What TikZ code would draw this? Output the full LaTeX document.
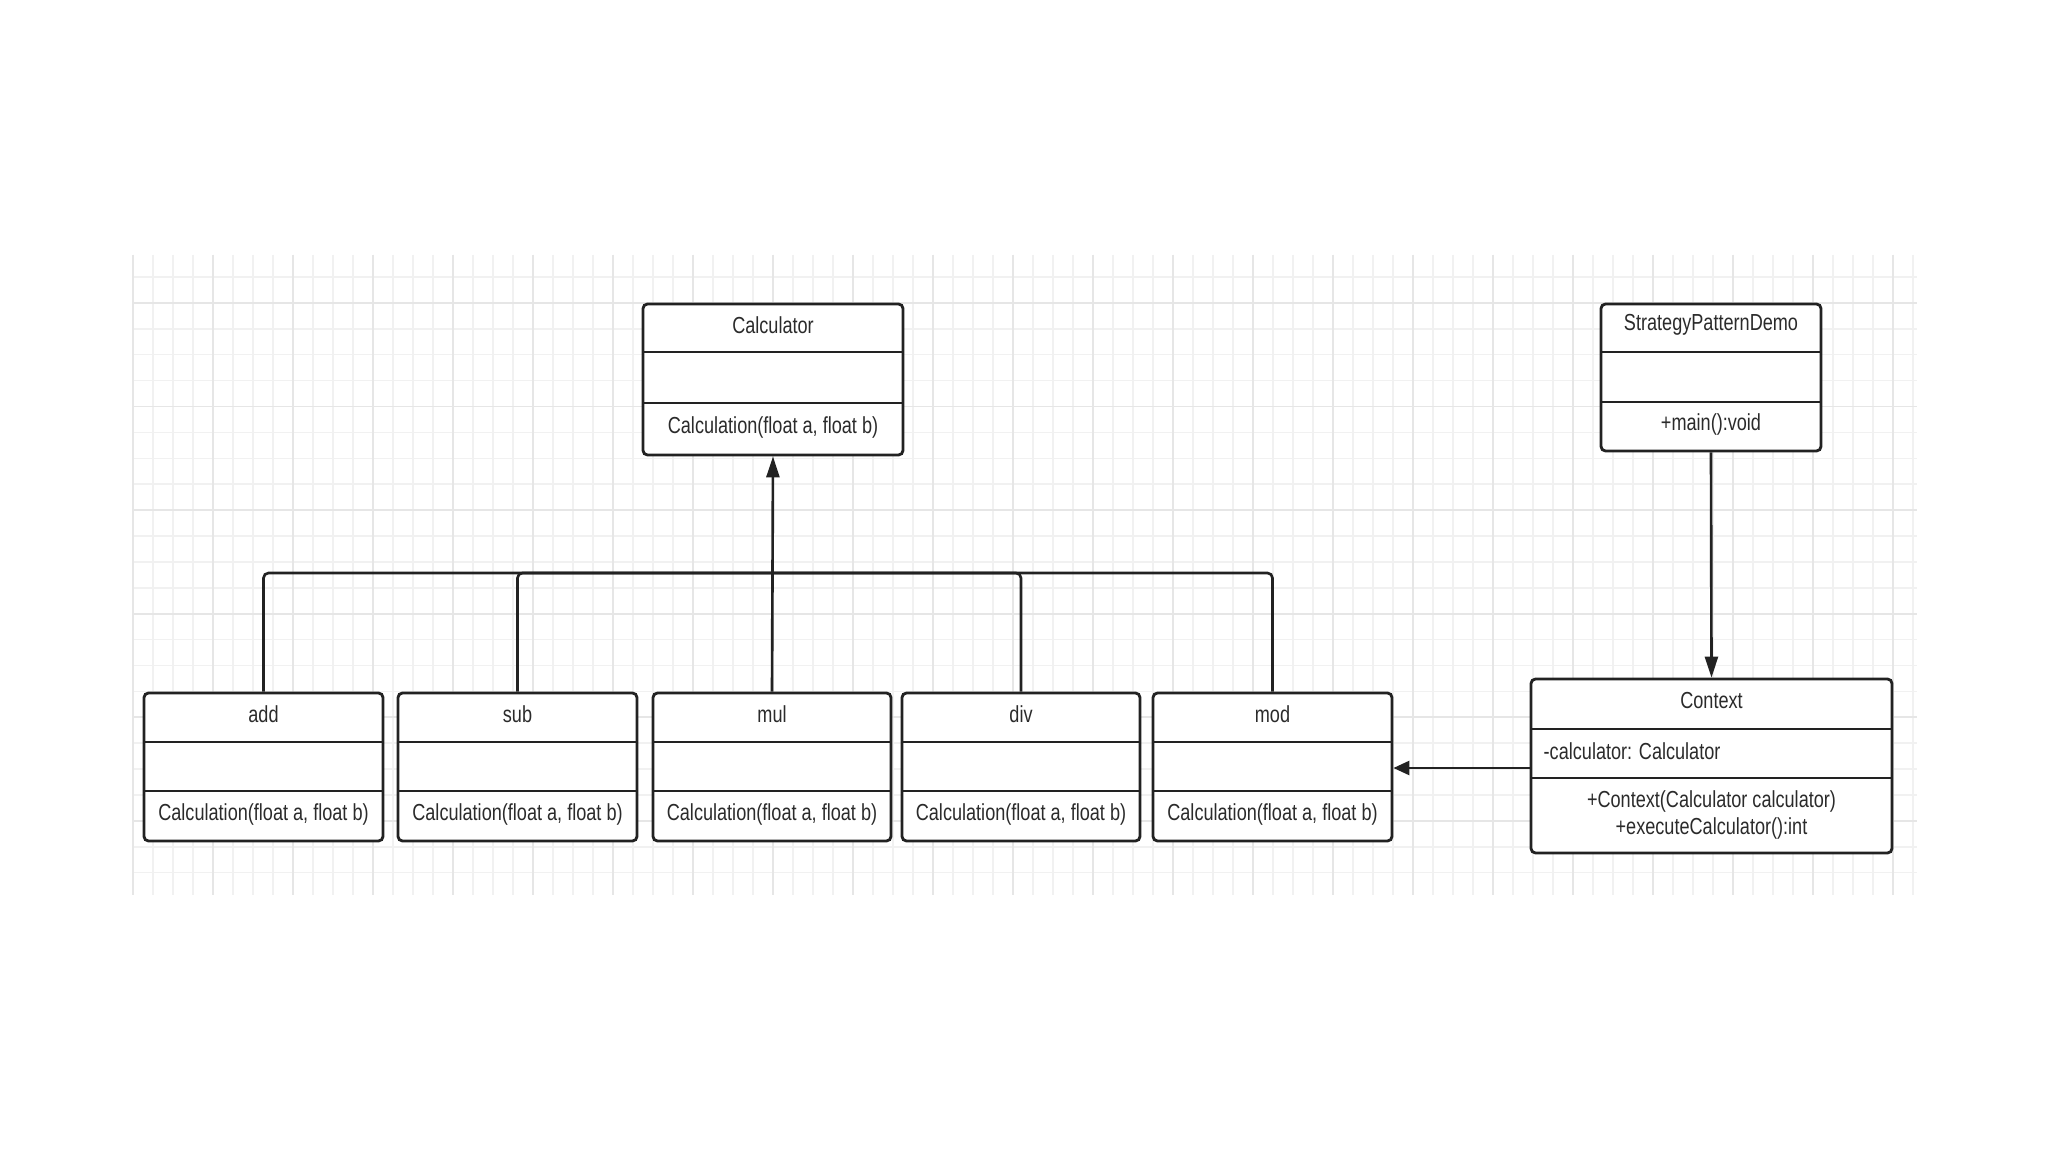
\documentclass[tikz,border=0pt]{standalone}
\usepackage{fontspec}
\setmainfont{Liberation Sans}[FakeStretch=0.78]
\usetikzlibrary{arrows.meta,fit,calc}
\definecolor{gminor}{HTML}{F1F1F1}
\definecolor{gmajor}{HTML}{E6E6E6}
\definecolor{ink}{HTML}{222222}
\definecolor{txtc}{HTML}{2B2B2B}
\tikzset{
  classbox/.style={draw=ink, line width=0.8pt, rounded corners=0.045cm, fill=white, inner sep=0pt},
  divline/.style={draw=ink, line width=0.8pt},
  lbl/.style={text=txtc, font=\fontsize{6.6}{7.4}\selectfont, inner sep=0pt},
  conn/.style={draw=ink, line width=0.75pt},
  uptip/.style={-{Triangle[length=0.21cm,width=0.13cm]}},
  sidetip/.style={-{Triangle[length=0.16cm,width=0.14cm]}},
  gridminor/.style={draw=gminor, line width=0.45pt},
  gridmajor/.style={draw=gmajor, line width=0.5pt},
}
% name, left, top, right, bottom, divider1, divider2, title, operations
\newcommand\umlcls[9]{%
  \node[classbox, fit={(#2,#3) (#4,#5)}] (#1) {};
  \draw[divline] (#2,#6) -- (#4,#6);
  \draw[divline] (#2,#7) -- (#4,#7);
  \node[lbl] (#1-title) at ({(#2+#4)/2},{(#3+#6)/2-3}) {#8};
  \node[lbl] (#1-ops) at ({(#2+#4)/2},{(#7+#5)/2-2}) {#9};
}
\begin{document}
\begin{tikzpicture}[x=0.01cm, y=-0.01cm]
\fill[white] (0,0) rectangle (2048,1152);
\useasboundingbox (0,0) rectangle (2048,1152);
% grid
\foreach \i in {0,...,89} \draw[gridminor] ({133+20*\i},255) -- ++(0,640);
\foreach \j in {0,...,23} \draw[gridminor] (133,{277+25.9*\j}) -- (1917,{277+25.9*\j});
\foreach \i in {0,4,...,88} \draw[gridmajor] ({133+20*\i},255) -- ++(0,640);
\foreach \j in {1,5,...,21} \draw[gridmajor] (133,{277+25.9*\j}) -- (1917,{277+25.9*\j});
% classes
\umlcls{calc}{643}{304}{903}{455}{352}{403}{Calculator}{Calculation(float a, float b)}
\umlcls{demo}{1601}{304}{1821}{451}{352}{402}{StrategyPatternDemo}{+main():void}
\umlcls{add}{144}{693}{383}{841}{742}{791}{add}{Calculation(float a, float b)}
\umlcls{sub}{398}{693}{637}{841}{742}{791}{sub}{Calculation(float a, float b)}
\umlcls{mul}{653}{693}{891}{841}{742}{791}{mul}{Calculation(float a, float b)}
\umlcls{div}{902}{693}{1140}{841}{742}{791}{div}{Calculation(float a, float b)}
\umlcls{mod}{1153}{693}{1392}{841}{742}{791}{mod}{Calculation(float a, float b)}
% Context
\node[classbox, fit={(1531,679) (1892,853)}] (ctx) {};
\draw[divline] (1531,729) -- (1892,729);
\draw[divline] (1531,778) -- (1892,778);
\node[lbl] (ctx-title) at (1711.5,701) {Context};
\node[lbl, anchor=west] (ctx-attr) at (1543,751) {-calculator: Calculator};
\node[lbl, align=center] (ctx-ops) at (1711.5,815) {+Context(Calculator calculator)\\+executeCalculator():int};
% connectors
\coordinate (bus) at (772,573);
\coordinate (arrowy) at (0,768);
\draw[conn, rounded corners=0.05cm] (add.north) |- (bus);
\draw[conn, rounded corners=0.05cm] (sub.north) |- (bus);
\draw[conn, rounded corners=0.05cm] (div.north) |- (bus);
\draw[conn, rounded corners=0.05cm] (mod.north) |- (bus);
\draw[conn, uptip] (mul.north) -- (calc.south);
\draw[conn, uptip] (demo.south) -- (ctx.north);
\draw[conn, sidetip] (ctx.west|-arrowy) -- (mod.east|-arrowy);
\end{tikzpicture}
\end{document}
